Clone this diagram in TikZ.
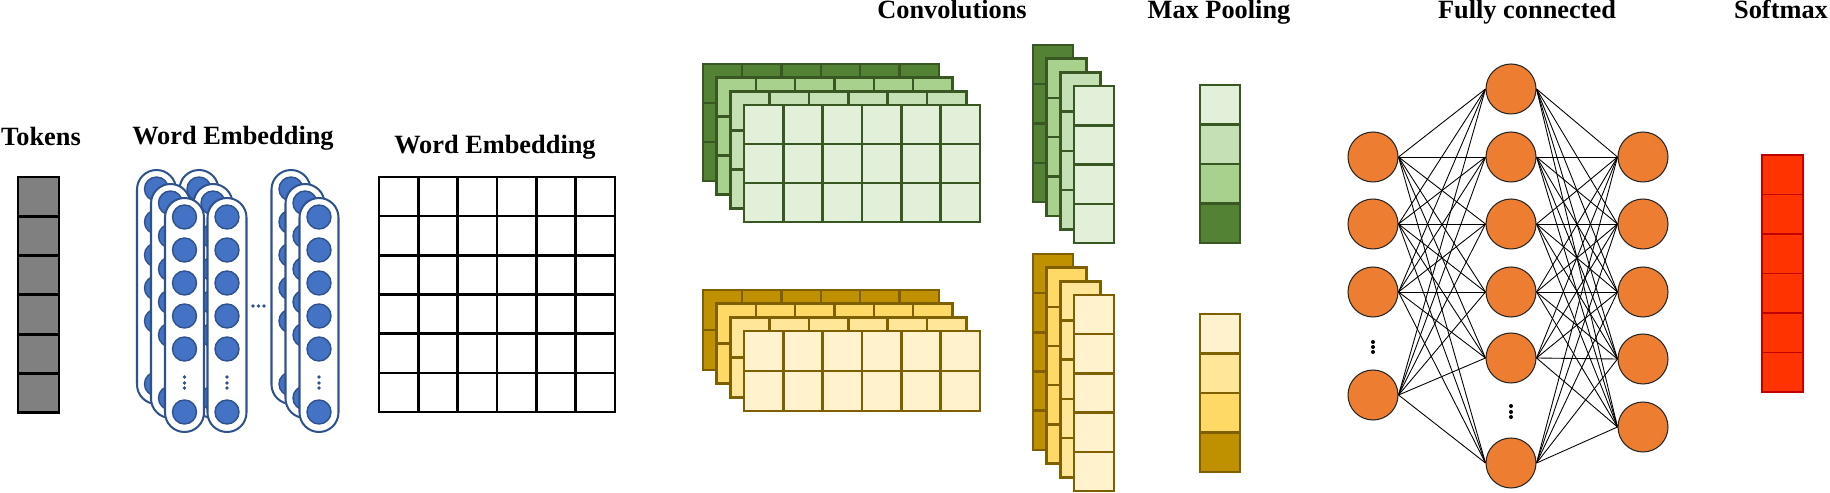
\documentclass[tikz,border=0pt]{standalone}
\usepackage{fontspec}
\setmainfont{Liberation Serif}
\usepackage{tikz}

\definecolor{TokenGray}{HTML}{808080}
\definecolor{UnitBlue}{HTML}{4472C4}
\definecolor{UnitEdge}{HTML}{2F528F}
\definecolor{GreenDark}{HTML}{548235}
\definecolor{GreenMid}{HTML}{A9D18E}
\definecolor{GreenLight}{HTML}{C5E0B4}
\definecolor{GreenPale}{HTML}{E2F0D9}
\definecolor{GreenEdge}{HTML}{385723}
\definecolor{GoldDark}{HTML}{BF9000}
\definecolor{GoldMid}{HTML}{FFD966}
\definecolor{GoldLight}{HTML}{FFE699}
\definecolor{GoldPale}{HTML}{FFF2CC}
\definecolor{GoldEdge}{HTML}{7F6000}
\definecolor{NeuronOrange}{HTML}{ED7D31}
\definecolor{SoftRed}{HTML}{FF3300}
\definecolor{SoftEdge}{HTML}{C00000}

\begin{document}
\begin{tikzpicture}[x=0.02cm, y=-0.02cm,
    title/.style={font=\fontsize{15}{18}\selectfont\bfseries, anchor=base, inner sep=0pt},
    tokcell/.style={draw=black, fill=TokenGray, line width=1.7pt},
    embcell/.style={draw=black, fill=white, line width=1.5pt},
    pill/.style={draw=UnitEdge, fill=white, line width=1.15pt, rounded corners=0.39cm},
    unit/.style={draw=UnitEdge, fill=UnitBlue, line width=0.8pt},
    greencell/.style={draw=GreenEdge, line width=1.4pt},
    goldcell/.style={draw=GoldEdge, line width=1.4pt},
    neuron/.style={circle, draw=black!85, fill=NeuronOrange, line width=0.6pt,
      minimum size=1cm, inner sep=0pt},
    link/.style={black, line width=0.5pt},
    softcell/.style={draw=SoftEdge, fill=SoftRed, line width=1.1pt}]
    \useasboundingbox (0,0) rectangle (1830,493);

    % Titles
    \node [title] (tokens) at (41,146) {Tokens};
    \node [title] (embed) at (233,145) {Word Embedding};
    \node [title] (embedgrid) at (495,154) {Word Embedding};
    \node [title] (conv) at (952,19) {Convolutions};
    \node [title] (pool) at (1219,19) {Max Pooling};
    \node [title] (fc) at (1527,19) {Fully connected};
    \node [title] (softmax) at (1781,19) {Softmax};

    \begin{scope} % Tokens
        \foreach \j in {0,...,5}
            \draw [tokcell] (18,177+\j*39.33) rectangle ++(41,39.33);
    \end{scope}

    \begin{scope} % Word vectors, back to front
        \foreach \k in {2,1,0} {
            \foreach \cx in {184.5,227,319} {
                \begin{scope}[shift={(\cx-\k*14,198-\k*14)}]
                    \draw [pill] (-19.5,0) rectangle (19.5,234);
                    \foreach \cy in {19,52,85,118,151,214}
                        \draw [unit] (0,\cy) circle [radius=12];
                    \foreach \cy in {179,185,190}
                        \fill [UnitEdge] (0,\cy) circle [radius=1.8];
                \end{scope}
            }
        }
        \foreach \cx in {253,258.5,264}
            \fill [UnitEdge] (\cx,306) circle [radius=1.8];
    \end{scope}

    \begin{scope} % Embedding matrix
        \foreach \i in {0,...,5}
            \foreach \j in {0,...,5}
                \draw [embcell] (379+\i*39.33,177+\j*39.17) rectangle ++(39.33,39.17);
    \end{scope}

    \begin{scope} % Convolution maps
        \foreach \k/\col in {3/GreenDark,2/GreenMid,1/GreenLight,0/GreenPale} {
            \foreach \i in {0,...,5}
                \foreach \j in {0,...,2}
                    \draw [greencell, fill=\col]
                        (744-\k*13.7+\i*39.33,105-\k*13.7+\j*39) rectangle ++(39.33,39);
            \foreach \j in {0,...,3}
                \draw [greencell, fill=\col]
                    (1074-\k*13.7,86-\k*13.7+\j*39.3) rectangle ++(40,39.3);
        }
        \foreach \k/\col in {3/GoldDark,2/GoldMid,1/GoldLight,0/GoldPale} {
            \foreach \i in {0,...,5}
                \foreach \j in {0,...,1}
                    \draw [goldcell, fill=\col]
                        (744-\k*13.7+\i*39.33,331-\k*13.7+\j*40) rectangle ++(39.33,40);
            \foreach \j in {0,...,4}
                \draw [goldcell, fill=\col]
                    (1074-\k*13.7,295-\k*13.7+\j*39.2) rectangle ++(40,39.2);
        }
    \end{scope}

    \begin{scope} % Max pooling
        \foreach \j/\col in {0/GreenPale,1/GreenLight,2/GreenMid,3/GreenDark}
            \draw [greencell, fill=\col] (1200,85+\j*39.5) rectangle ++(40,39.5);
        \foreach \j/\col in {0/GoldPale,1/GoldLight,2/GoldMid,3/GoldDark}
            \draw [goldcell, fill=\col] (1200,314+\j*39.5) rectangle ++(40,39.5);
    \end{scope}

    \begin{scope} % Fully connected layers
        \foreach \n/\y in {1/157,2/224,3/292,4/395}
            \node [neuron] (l\n) at (1373,\y) {};
        \foreach \n/\y in {1/89,2/157,3/224,4/292,5/358,6/463}
            \node [neuron] (m\n) at (1511,\y) {};
        \foreach \n/\y in {1/157,2/224,3/292,4/359,5/427}
            \node [neuron] (r\n) at (1643,\y) {};
        \foreach \a in {1,...,4}
            \foreach \b in {1,...,6}
                \draw [link] (l\a.east) -- (m\b.west);
        \foreach \a in {1,...,6}
            \foreach \b in {1,...,5}
                \draw [link] (m\a.east) -- (r\b.west);
        \foreach \y in {342,347,352}
            \fill [black] (1373,\y) circle [radius=2];
        \foreach \y in {406,412,417}
            \fill [black] (1511,\y) circle [radius=2];
    \end{scope}

    \begin{scope} % Softmax
        \foreach \j in {0,...,5}
            \draw [softcell] (1762,155+\j*39.5) rectangle ++(41,39.5);
    \end{scope}
\end{tikzpicture}
\end{document}
